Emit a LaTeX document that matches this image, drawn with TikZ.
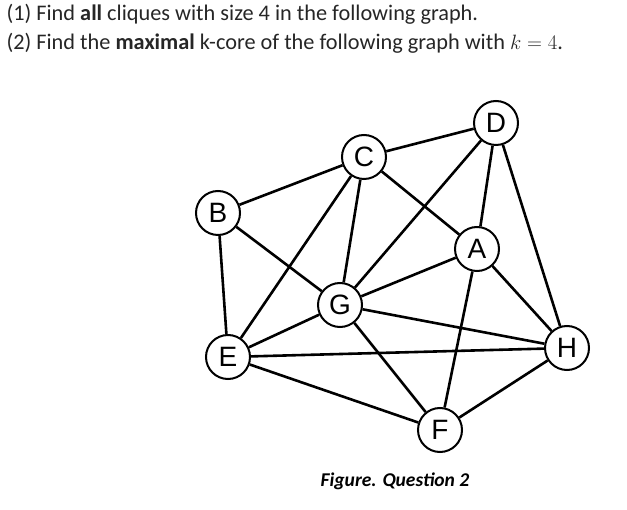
\documentclass[tikz,border=0pt]{standalone}
\usepackage{fontspec}
\setmainfont{Carlito}
\newfontfamily\nodefont{Liberation Sans}
\begin{document}
\begin{tikzpicture}[x=1pt,y=-1pt,
  vtx/.style={circle,draw,line width=2pt,minimum size=44pt,inner sep=0pt,fill=white,font=\nodefont\fontsize{28}{28}\selectfont},
  edge/.style={line width=2.6pt}]
\useasboundingbox (0,0) rectangle (627,510);
\node[anchor=west,font=\fontsize{22.3}{25}\selectfont,text=black!85] (t1) at (3,14) {(1) Find \textbf{all} cliques with size 4 in the following graph.};
\node[anchor=west,font=\fontsize{22.3}{25}\selectfont,text=black!85] (t2) at (3,43) {(2) Find the \textbf{maximal} k-core of the following graph with $k=4$.};
\node (D) [vtx] at (496,123) {D};
\node (C) [vtx] at (364,157) {C};
\node (B) [vtx] at (218,213) {B};
\node (A) [vtx] at (477,249) {A};
\node (G) [vtx] at (340,305) {G};
\node (E) [vtx] at (228,357) {E};
\node (H) [vtx] at (567,348) {H};
\node (F) [vtx] at (440,430) {F};
\foreach \a/\b in {B/C,C/D,C/A,C/G,C/E,B/G,B/E,D/A,D/G,D/H,A/G,A/H,A/F,G/E,G/H,G/F,E/H,E/F,F/H}
  \draw[edge] (\a) -- (\b);
\node[font=\fontsize{19.5}{22}\selectfont\bfseries\itshape] (cap) at (395,481) {Figure. Question 2};
\end{tikzpicture}
\end{document}
